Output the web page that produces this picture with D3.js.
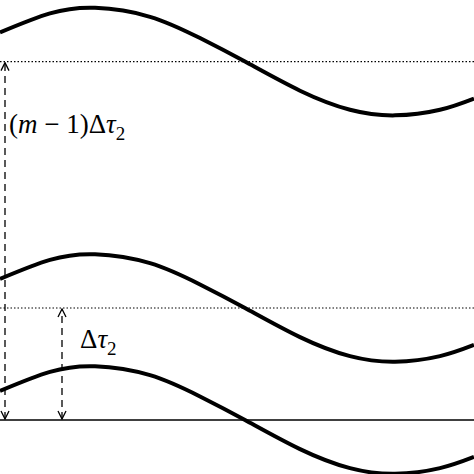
<!DOCTYPE html>
<html><head><meta charset="utf-8">
<script src="https://cdn.jsdelivr.net/npm/d3@7"></script>
<style>body{margin:0;background:#fff}</style></head>
<body><svg id="c" width="474" height="474"></svg>
<script>
// wave shape: x in px positions (0..474), offset in Δτ units
const waveX = [0, 50, 95, 150, 200, 245, 300, 350, 395, 440, 474];
const waveOffset = [0.26, 0.43, 0.48, 0.40, 0.21, 0, -0.26, -0.43, -0.48, -0.43, -0.33];
// levels of the three waves (Δτ units)
const levels = [0, 1, 3.2];
const dottedLevels = [1, 3.2];

const svg = d3.select("#c");
const x = d3.scaleLinear().domain([0, 474]).range([0, 474]);
const y = d3.scaleLinear().domain([0, 1]).range([420, 308]);

svg.append("defs").append("marker").attr("id","ah").attr("viewBox","0 0 10 10")
  .attr("refX",9).attr("refY",5).attr("markerWidth",10).attr("markerHeight",10)
  .attr("markerUnits","userSpaceOnUse").attr("orient","auto-start-reverse")
  .append("path").attr("d","M1,1 L9,5 L1,9").attr("fill","none").attr("stroke","#000").attr("stroke-width",1.3);

// baseline
svg.append("line").attr("x1",0).attr("x2",474).attr("y1",y(0)).attr("y2",y(0))
  .attr("stroke","#000").attr("stroke-width",1.5);
// dotted lines
dottedLevels.forEach(l=>svg.append("line").attr("x1",0).attr("x2",474).attr("y1",y(l)).attr("y2",y(l))
  .attr("stroke","#000").attr("stroke-width",1.2).attr("stroke-dasharray","1.5,2"));

// waves
const line = d3.line().x(d=>x(d[0])).y(d=>y(d[1])).curve(d3.curveNatural);
levels.forEach(l=>{
  svg.append("path").datum(waveX.map((xv,i)=>[xv, l+waveOffset[i]]))
    .attr("d", line).attr("fill","none").attr("stroke","#000").attr("stroke-width",4);
});

// dashed arrows
[[5, 3.2],[62, 1]].forEach(([xv,l])=>{
  svg.append("line").attr("x1",xv).attr("x2",xv).attr("y1",y(0)-1).attr("y2",y(l)+1)
    .attr("stroke","#000").attr("stroke-width",1.3).attr("stroke-dasharray","7,5")
    .attr("marker-start","url(#ah)").attr("marker-end","url(#ah)");
});

const tf = "'Liberation Serif','Times New Roman',serif";
const t1 = svg.append("text").attr("x",9).attr("y",133).attr("font-family",tf).attr("font-size",27);
t1.append("tspan").text("(");
t1.append("tspan").attr("font-style","italic").text("m");
t1.append("tspan").text(" \u2212 1)\u0394");
t1.append("tspan").attr("font-style","italic").text("\u03c4");
t1.append("tspan").attr("font-size",19).attr("dy",7).text("2");

const t2 = svg.append("text").attr("x",80).attr("y",348).attr("font-family",tf).attr("font-size",27);
t2.append("tspan").text("\u0394");
t2.append("tspan").attr("font-style","italic").text("\u03c4");
t2.append("tspan").attr("font-size",19).attr("dy",7).text("2");
</script></body></html>
